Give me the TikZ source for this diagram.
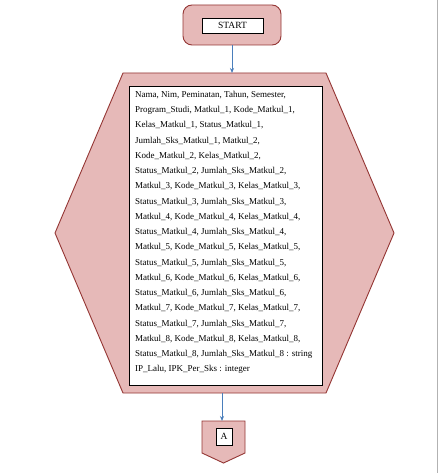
\documentclass[tikz,border=0pt]{standalone}
\usepackage{fontspec}
\setmainfont{Liberation Serif}
\usetikzlibrary{arrows.meta}
\definecolor{pinkfill}{HTML}{E6B9B8}
\definecolor{darkred}{HTML}{943634}
\definecolor{flowblue}{HTML}{4A7EBB}
\tikzset{
  shapefill/.style={fill=pinkfill, draw=darkred, line width=0.9pt},
  whitebox/.style={draw=black, fill=white, line width=0.9pt, inner sep=0pt},
  flow/.style={draw=flowblue, line width=0.8pt, -{Stealth[length=5pt,width=4pt]}},
}
\begin{document}
\begin{tikzpicture}[x=1pt,y=-1pt]
\path[use as bounding box, fill=white] (0,0) rectangle (439,473);
% page edge
\draw[color=black!30, line width=0.8pt] (437.7,0) -- (437.7,473);
% START terminator
\node[shapefill, rounded corners=9pt, minimum width=98pt, minimum height=40pt, inner sep=0pt] (start) at (232,25) {};
\node[whitebox, minimum width=61pt, minimum height=15pt, font=\fontsize{9.5}{11}\selectfont] (starttext) at (232.5,25.5) {START};
% hexagon (preparation)
\draw[shapefill] (123,73) -- (326,73) -- (394,233) -- (326,393) -- (123,393) -- (55,233) -- cycle;
\coordinate (hexTop) at (224.5,73);
\coordinate (hexBot) at (224.5,393);
\node[whitebox, minimum width=193pt, minimum height=299pt, anchor=north west] (databox) at (129,86) {};
\node[anchor=north west, inner sep=0pt, align=left, font=\fontsize{9}{15.24}\selectfont] (datatext) at (135,91) {%
Nama, Nim, Peminatan, Tahun, Semester,\\
Program\_Studi, Matkul\_1, Kode\_Matkul\_1,\\
Kelas\_Matkul\_1, Status\_Matkul\_1,\\
Jumlah\_Sks\_Matkul\_1, Matkul\_2,\\
Kode\_Matkul\_2, Kelas\_Matkul\_2,\\
Status\_Matkul\_2, Jumlah\_Sks\_Matkul\_2,\\
Matkul\_3, Kode\_Matkul\_3, Kelas\_Matkul\_3,\\
Status\_Matkul\_3, Jumlah\_Sks\_Matkul\_3,\\
Matkul\_4, Kode\_Matkul\_4, Kelas\_Matkul\_4,\\
Status\_Matkul\_4, Jumlah\_Sks\_Matkul\_4,\\
Matkul\_5, Kode\_Matkul\_5, Kelas\_Matkul\_5,\\
Status\_Matkul\_5, Jumlah\_Sks\_Matkul\_5,\\
Matkul\_6, Kode\_Matkul\_6, Kelas\_Matkul\_6,\\
Status\_Matkul\_6, Jumlah\_Sks\_Matkul\_6,\\
Matkul\_7, Kode\_Matkul\_7, Kelas\_Matkul\_7,\\
Status\_Matkul\_7, Jumlah\_Sks\_Matkul\_7,\\
Matkul\_8, Kode\_Matkul\_8, Kelas\_Matkul\_8,\\
Status\_Matkul\_8, Jumlah\_Sks\_Matkul\_8 : string\\
IP\_Lalu, IPK\_Per\_Sks : integer};
% off-page connector
\draw[shapefill] (202,421) -- (245,421) -- (245,453) -- (223.5,463) -- (202,453) -- cycle;
\coordinate (connTop) at (222,421);
\node[whitebox, minimum width=16pt, minimum height=17pt, font=\fontsize{9.5}{11}\selectfont] (conntext) at (224,436.5) {A};
% connectors
\draw[flow] (start.south) -- (start.south |- hexTop);
\draw[flow] (hexBot -| connTop) -- (connTop);
\end{tikzpicture}
\end{document}
